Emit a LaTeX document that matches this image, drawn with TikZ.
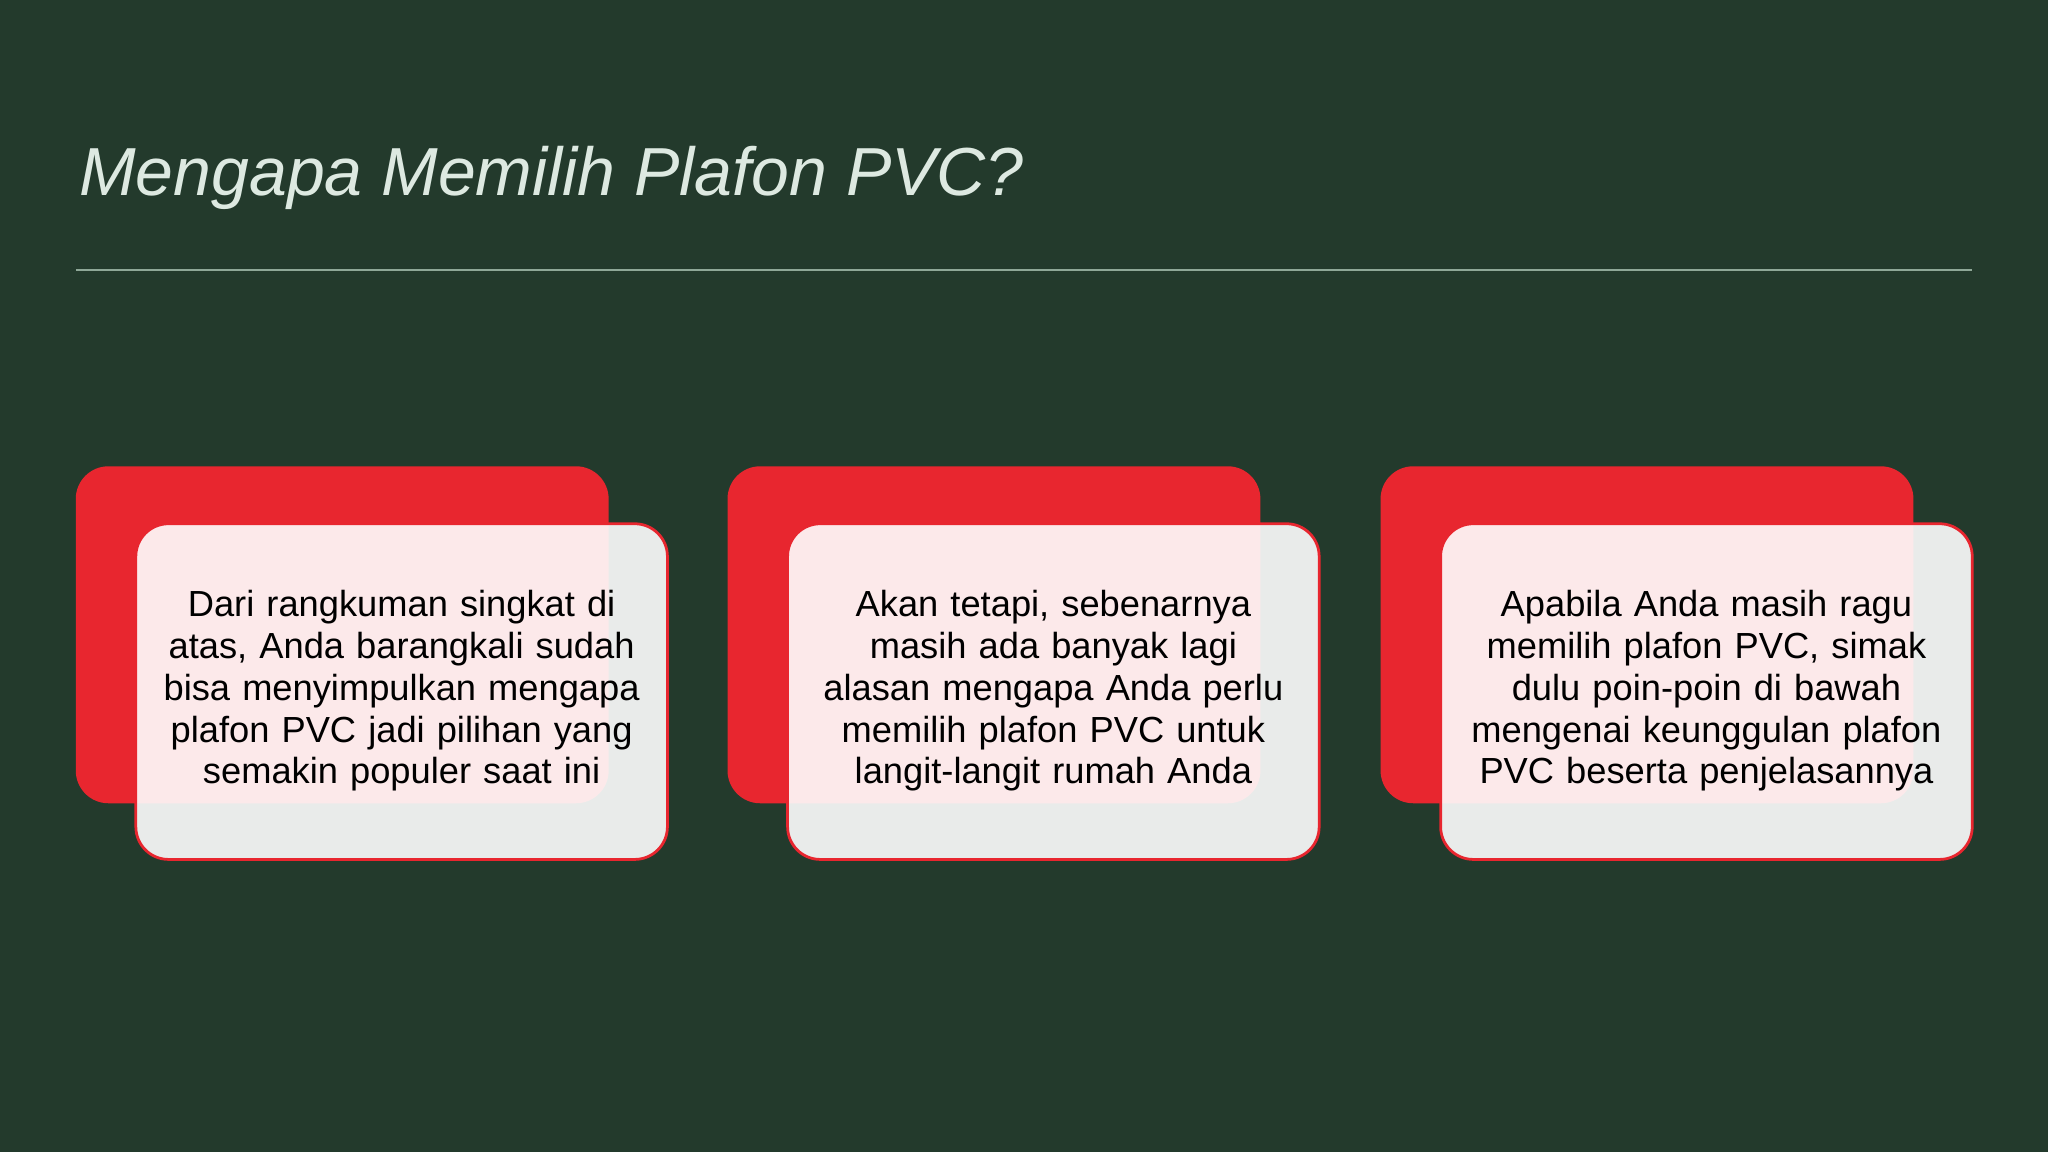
\documentclass[tikz,border=0pt]{standalone}
\usepackage{fontspec}
\setmainfont{Liberation Sans}
\definecolor{bg}{HTML}{233A2C}
\definecolor{redc}{HTML}{E8262F}
\definecolor{titlec}{HTML}{DDE9E1}
\definecolor{linec}{HTML}{8FA898}
\begin{document}
\begin{tikzpicture}[x=0.01cm,y=-0.01cm,
  redbox/.style={fill=redc,rounded corners=0.25cm},
  cardbox/.style={fill=white,fill opacity=0.9,draw=redc,line width=0.6pt,rounded corners=0.25cm},
  cardtext/.style={text width=3.7cm,align=center,font=\fontsize{7.9}{9.1}\selectfont,text=black}]
\fill[bg] (0,0) rectangle (1568,882);
\useasboundingbox (0,0) rectangle (1568,882);
\node[anchor=base west,inner sep=0,text=titlec,font=\fontsize{14.8}{17}\selectfont\itshape] (title) at (60,150) {Mengapa Memilih Plafon PVC?};
\coordinate (l1) at (58,207); \coordinate (l2) at (1510,207);
\draw[linec,line width=0.4pt] (l1) -- (l2);
\foreach \x/\n/\t in {0/a/{Dari rangkuman singkat di atas, Anda barangkali sudah bisa menyimpulkan mengapa plafon PVC jadi pilihan yang semakin populer saat ini},
 499/b/{Akan tetapi, sebenarnya masih ada banyak lagi alasan mengapa Anda perlu memilih plafon PVC untuk langit-langit rumah Anda},
 999/c/{Apabila Anda masih ragu memilih plafon PVC, simak dulu poin-poin di bawah mengenai keunggulan plafon PVC beserta penjelasannya}}{
  \fill[redbox] (58+\x,357) rectangle (466+\x,615);
  \draw[cardbox] (104+\x,401) rectangle (511+\x,658);
  \node[cardtext] (\n) at (307.5+\x,529) {\t};
}
\end{tikzpicture}
\end{document}
